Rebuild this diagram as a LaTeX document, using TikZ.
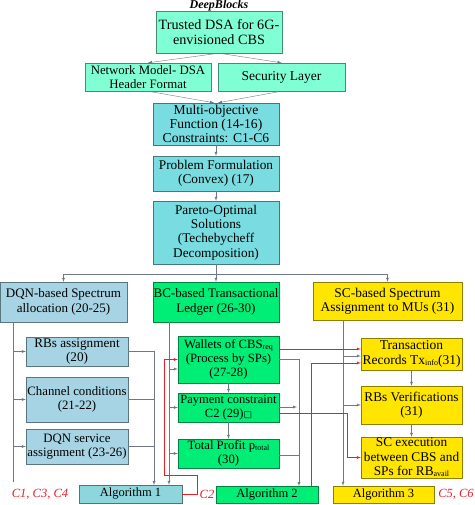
\documentclass[tikz,border=0pt]{standalone}
\usepackage{fontspec}
\setmainfont{Liberation Serif}
\newfontfamily\symfont{DejaVu Sans}
\definecolor{mint}{RGB}{128,255,212}
\definecolor{tealc}{RGB}{120,220,224}
\definecolor{skyb}{RGB}{166,212,228}
\definecolor{alga}{RGB}{140,214,220}
\definecolor{sgreen}{RGB}{0,238,118}
\definecolor{syellow}{RGB}{255,229,0}
\definecolor{linegray}{RGB}{112,120,136}
\definecolor{cred}{RGB}{232,30,40}
\newcommand{\lowsub}[1]{\raisebox{-1.5pt}{\fontsize{8}{8}\selectfont #1}}
\newcommand{\fsz}[1]{\fontsize{#1}{14.3}\selectfont}

\begin{document}
\begin{tikzpicture}[x=1pt,y=-1pt,
  font=\fsz{13},
  box/.style={draw=#1!55!black, fill=#1, align=center, inner sep=0pt},
  wire/.style={-latex, linegray, thin},
  redwire/.style={-latex, cred, thin},
  cond/.style={cred, font=\itshape\fsz{12.5}}]
\useasboundingbox (0,0) rectangle (474,505);

% top part
\node[font=\bfseries\itshape\fontsize{12}{12}\selectfont] (ttl) at (219,6) {DeepBlocks};
\node[box=mint, minimum width=126, minimum height=42, font=\fsz{14.2}] (trust) at (219,32) {Trusted DSA for 6G-\\envisioned CBS};
\node[box=mint, minimum width=126, minimum height=28, font=\fsz{12.8}] (netw) at (148,77) {Network Model- DSA\\Header Format};
\node[box=mint, minimum width=127, minimum height=28, font=\fsz{13.5}] (secu) at (281.5,77) {Security Layer};
\node[box=tealc, minimum width=126, minimum height=42, font=\fsz{13.6}] (multi) at (216,124) {Multi-objective\\Function (14-16)\\Constraints: C1-C6};
\node[box=tealc, minimum width=126, minimum height=35, font=\fsz{13.3}] (prob) at (216,173.5) {Problem Formulation\\(Convex) (17)};
\node[box=tealc, minimum width=126, minimum height=63, font=\fsz{13.3}] (pareto) at (216,232.5) {Pareto-Optimal\\Solutions\\(Techebycheff\\Decomposition)};

% three branches
\node[box=skyb, minimum width=127, minimum height=40] (dqn) at (63.5,302) {DQN-based Spectrum\\allocation (20-25)};
\node[box=sgreen, minimum width=126, minimum height=40] (bc) at (216,302) {BC-based Transactional\\Ledger (26-30)};
\node[box=syellow, minimum width=149, minimum height=38, font=\fsz{13.4}] (sc) at (387.5,301) {SC-based Spectrum\\Assignment to MUs (31)};

\node[box=skyb, minimum width=102, minimum height=29, font=\fsz{13.2}] (rbs) at (77,351.5) {RBs assignment\\(20)};
\node[box=skyb, minimum width=102, minimum height=45, font=\fsz{12.8}] (chan) at (77,399.5) {Channel conditions\\(21-22)};
\node[box=skyb, minimum width=102, minimum height=35, font=\fsz{12.8}] (dqns) at (77,446.5) {DQN service\\assignment (23-26)};

\node[box=sgreen, minimum width=101, minimum height=47, font=\fsz{12.7}] (wal) at (228.5,359.5) {Wallets of CBS\lowsub{req}\\(Process by SPs)\\(27-28)};
\node[box=sgreen, minimum width=101, minimum height=29, font=\fsz{12.5}] (pay) at (228.5,407.5) {Payment constraint\\C2 (29){\symfont\fontsize{9}{9}\selectfont □}};
\node[box=sgreen, minimum width=101, minimum height=29, font=\fsz{12.7}] (tot) at (228.5,453.5) {Total Profit p\lowsub{total}\\(30)};

\node[box=syellow, minimum width=101, minimum height=32, font=\fsz{13.5}] (txr) at (411.5,354) {Transaction\\Records Tx\lowsub{info}(31)};
\node[box=syellow, minimum width=101, minimum height=38, font=\fsz{13.3}] (rbv) at (411.5,405) {RBs Verifications\\(31)};
\node[box=syellow, minimum width=101, minimum height=41, font=\fsz{13.3}] (scx) at (411.5,457.5) {SC execution\\between CBS and\\SPs for RB\lowsub{avail}};

\node[box=alga, minimum width=103, minimum height=18, font=\fsz{12.5}] (alg1) at (130.5,494) {Algorithm 1};
\node[box=sgreen, minimum width=102, minimum height=17, font=\fsz{12.5}] (alg2) at (267,494.5) {Algorithm 2};
\node[box=syellow, minimum width=101, minimum height=17, font=\fsz{12.5}] (alg3) at (383.5,494.5) {Algorithm 3};

\node[cond] (c134) at (40,494) {C1, C3, C4};
\node[cond] (c2) at (207,494) {C2};
\node[cond] (c56) at (456,494) {C5, C6};

% upper connectors
\draw[wire] (trust.south) -- (netw.north);
\draw[wire] (trust.south) -- (secu.north);
\draw[wire] (netw.south) -- ([xshift=-2]multi.north);
\draw[wire] (secu.south) -- ([xshift=2]multi.north);
\draw[wire] (multi) -- (prob);
\draw[wire] (prob) -- (pareto);
\coordinate (split) at (216,274);
\draw[linegray, thin] (pareto.south) -- (split);
\draw[wire] (split) -| (dqn.north);
\draw[wire] (split) -- (bc.north);
\draw[wire] (split) -| (sc.north);

% left column
\coordinate (trL) at (13,322);
\coordinate (trLend) at (13,482);
\coordinate (a1in) at (154,485);
\draw[linegray, thin] (trL) -- (trLend);
\foreach \n in {rbs,chan,dqns}
  \draw[wire] (trL |- \n.west) -- (\n.west);
\draw[wire] (rbs.east) -| (a1in);
\draw[linegray, thin] (chan.east) -- (a1in |- chan.east);
\draw[linegray, thin] (dqns.east) -- (a1in |- dqns.east);

% middle column
\coordinate (trM) at (169,322);
\coordinate (a2in) at (299,486);
\draw[wire] (trM) -- (trM |- alg1.north);
\draw[wire] (trM |- 0,369) -- (wal.west |- 0,369);
\foreach \n in {pay,tot}
  \draw[wire] (trM |- \n.west) -- (\n.west);
\draw[wire] (wal) -- (pay);
\draw[wire] (pay) -- (tot);
\draw[wire] (wal.east |- 0,359) -| (a2in);
\draw[wire] (pay.east |- 0,407) -- (297,407);
\draw[linegray, thin] (tot.east |- 0,455) -- (a2in |- 0,455);

% right column
\coordinate (trR) at (343,320);
\draw[wire] (trR) -- (trR |- alg3.north);
\draw[wire] (trR |- 0,356) -- (txr.west |- 0,356);
\draw[wire] (trR |- rbv.west) -- (rbv.west);
\draw[wire] (txr) -- (rbv);
\draw[wire] (rbv) -- (scx);

% red links
\draw[redwire] (wal.east |- 0,349) -- (txr.west |- 0,349);
\draw[redwire] (pay.east |- 0,413) -- (347,413) |- (scx.west);
\draw[redwire] (alg2.north -| 311,0) |- (txr.west |- 0,363);
\draw[redwire] (alg1.east) -- (197,494) -- (197,475) -- (164,475) |- (wal.west);
\end{tikzpicture}
\end{document}
